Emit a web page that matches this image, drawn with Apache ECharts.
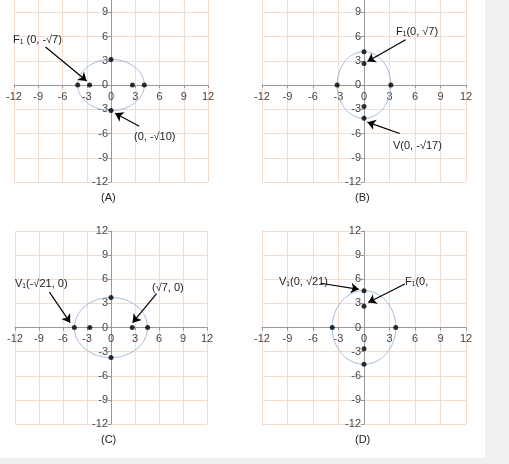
<!DOCTYPE html>
<html lang="en">
<head>
	<meta charset="UTF-8">
	<title>Ellipses</title>
	<style>
		html, body { margin: 0; padding: 0; background: #fff; }
		#box { width: 509px; height: 464px; }
	</style>
</head>
<body>
	<div id="box"></div>
	<script src="https://cdn.jsdelivr.net/npm/echarts@6/dist/echarts.min.js"></script>
	<script>
		var oBox = document.getElementById('box');
		var myChart = echarts.init(oBox);

		// tick labels
		var ticks = [-12, -9, -6, -3, 0, 3, 6, 9, 12];
		var panelNames = ['(A)', '(B)', '(C)', '(D)'];
		// ellipse half axes [rx, ry] per panel
		var radii = [[4.12, 3.16], [3.16, 4.12], [4.58, 3.74], [3.74, 4.58]];
		// marked points per panel
		var dotsA = [[-4.12, 0], [-2.65, 0], [2.65, 0], [4.12, 0], [0, 3.16], [0, -3.16]];
		var dotsB = [[0, 4.12], [0, 2.65], [0, -2.65], [0, -4.12], [-3.16, 0], [3.16, 0]];
		var dotsC = [[-4.58, 0], [-2.65, 0], [2.65, 0], [4.58, 0], [0, 3.74], [0, -3.74]];
		var dotsD = [[0, 4.58], [0, 2.65], [0, -2.65], [0, -4.58], [-3.74, 0], [3.74, 0]];
		var dots = [dotsA, dotsB, dotsC, dotsD];
		// arrows [from, to]
		var arrowsA = [[[-8.1, 4.7], [-3.0, 0.5]], [[3.5, -5.1], [0.5, -3.5]]];
		var arrowsB = [[[4.9, 5.6], [0.4, 2.9]], [[4.2, -6.0], [0.4, -4.6]]];
		var arrowsC = [[[-7.7, 4.4], [-5.1, 0.6]], [[5.7, 4.2], [2.7, 0.6]]];
		var arrowsD = [[[-5.1, 5.5], [-0.6, 4.75]], [[4.8, 5.4], [0.5, 3.1]]];
		var arrows = [arrowsA, arrowsB, arrowsC, arrowsD];

		// plot rectangles
		var grids = [
			{ left: 14, top: -12, width: 194, height: 194 },
			{ left: 262, top: -12, width: 204, height: 194 },
			{ left: 15, top: 231, width: 192, height: 193 },
			{ left: 262, top: 231, width: 204, height: 193 }
		];
		grids.forEach(function(g) { g.outerBoundsMode = 'none'; g.containLabel = false; });

		// ellipse outline from its half axes
		function ellipse(r) {
			var pts = [];
			for (var i = 0; i <= 72; i++) {
				var t = i / 72 * Math.PI * 2;
				pts.push([r[0] * Math.cos(t), r[1] * Math.sin(t)]);
			}
			return pts;
		}

		var lab = { color: '#444', fontSize: 11, fontFamily: 'Liberation Sans' };
		var xAxes = [], yAxes = [], series = [];
		grids.forEach(function(g, i) {
			function axis(offset, margin) {
				return {
					type: 'value', gridIndex: i, min: ticks[0], max: ticks[ticks.length - 1], interval: 3,
					offset: offset,
					axisLine: { onZero: false, lineStyle: { color: '#999' } },
					axisTick: { show: true, length: 3, lineStyle: { color: '#999' } },
					splitLine: { lineStyle: { color: '#f1dcd0' } },
					axisLabel: Object.assign({ margin: margin }, lab)
				};
			}
			xAxes.push(axis(-g.height / 2, 6));
			yAxes.push(axis(-g.width / 2, 3));
			series.push({
				type: 'line', xAxisIndex: i, yAxisIndex: i, data: ellipse(radii[i]),
				showSymbol: false, smooth: true, lineStyle: { color: '#9bb7d9', width: 1 }, z: 3,
				markLine: {
					silent: true, symbol: ['none', 'arrow'], symbolSize: 8,
					lineStyle: { color: '#000', width: 1.2, type: 'solid' }, label: { show: false },
					data: arrows[i].map(function(a) { return [{ coord: a[0] }, { coord: a[1] }]; })
				}
			});
			series.push({
				type: 'scatter', xAxisIndex: i, yAxisIndex: i, data: dots[i],
				symbolSize: 5, itemStyle: { color: '#000' }, z: 4
			});
		});

		var txt = { fontSize: 11, fontFamily: 'Liberation Sans', fill: '#222' };
		function t(x, y, s) {
			return { type: 'text', left: x, top: y, style: Object.assign({ text: s }, txt), z: 10 };
		}
		var option = {
			animation: false,
			grid: grids,
			xAxis: xAxes,
			yAxis: yAxes,
			series: series,
			graphic: [
				{ type: 'rect', shape: { x: 485, y: 0, width: 24, height: 464 }, style: { fill: '#f0f0f0' } },
				{ type: 'rect', shape: { x: 0, y: 458, width: 485, height: 6 }, style: { fill: '#f0f0f0' } },
				t(13, 34, 'F\u2081 (0, -\u221A7)'),
				t(134, 131, '(0, -\u221A10)'),
				t(396, 26, 'F\u2081(0, \u221A7)'),
				t(393, 140, 'V(0, -\u221A17)'),
				t(15, 278, 'V\u2081(-\u221A21, 0)'),
				t(152, 282, '(\u221A7, 0)'),
				t(279, 276, 'V\u2081(0, \u221A21)'),
				t(405, 276, 'F\u2081(0,'),
				t(101, 192, panelNames[0]),
				t(355, 192, panelNames[1]),
				t(101, 434, panelNames[2]),
				t(355, 434, panelNames[3])
			]
		};
		myChart.setOption(option);
	</script>
</body>
</html>
